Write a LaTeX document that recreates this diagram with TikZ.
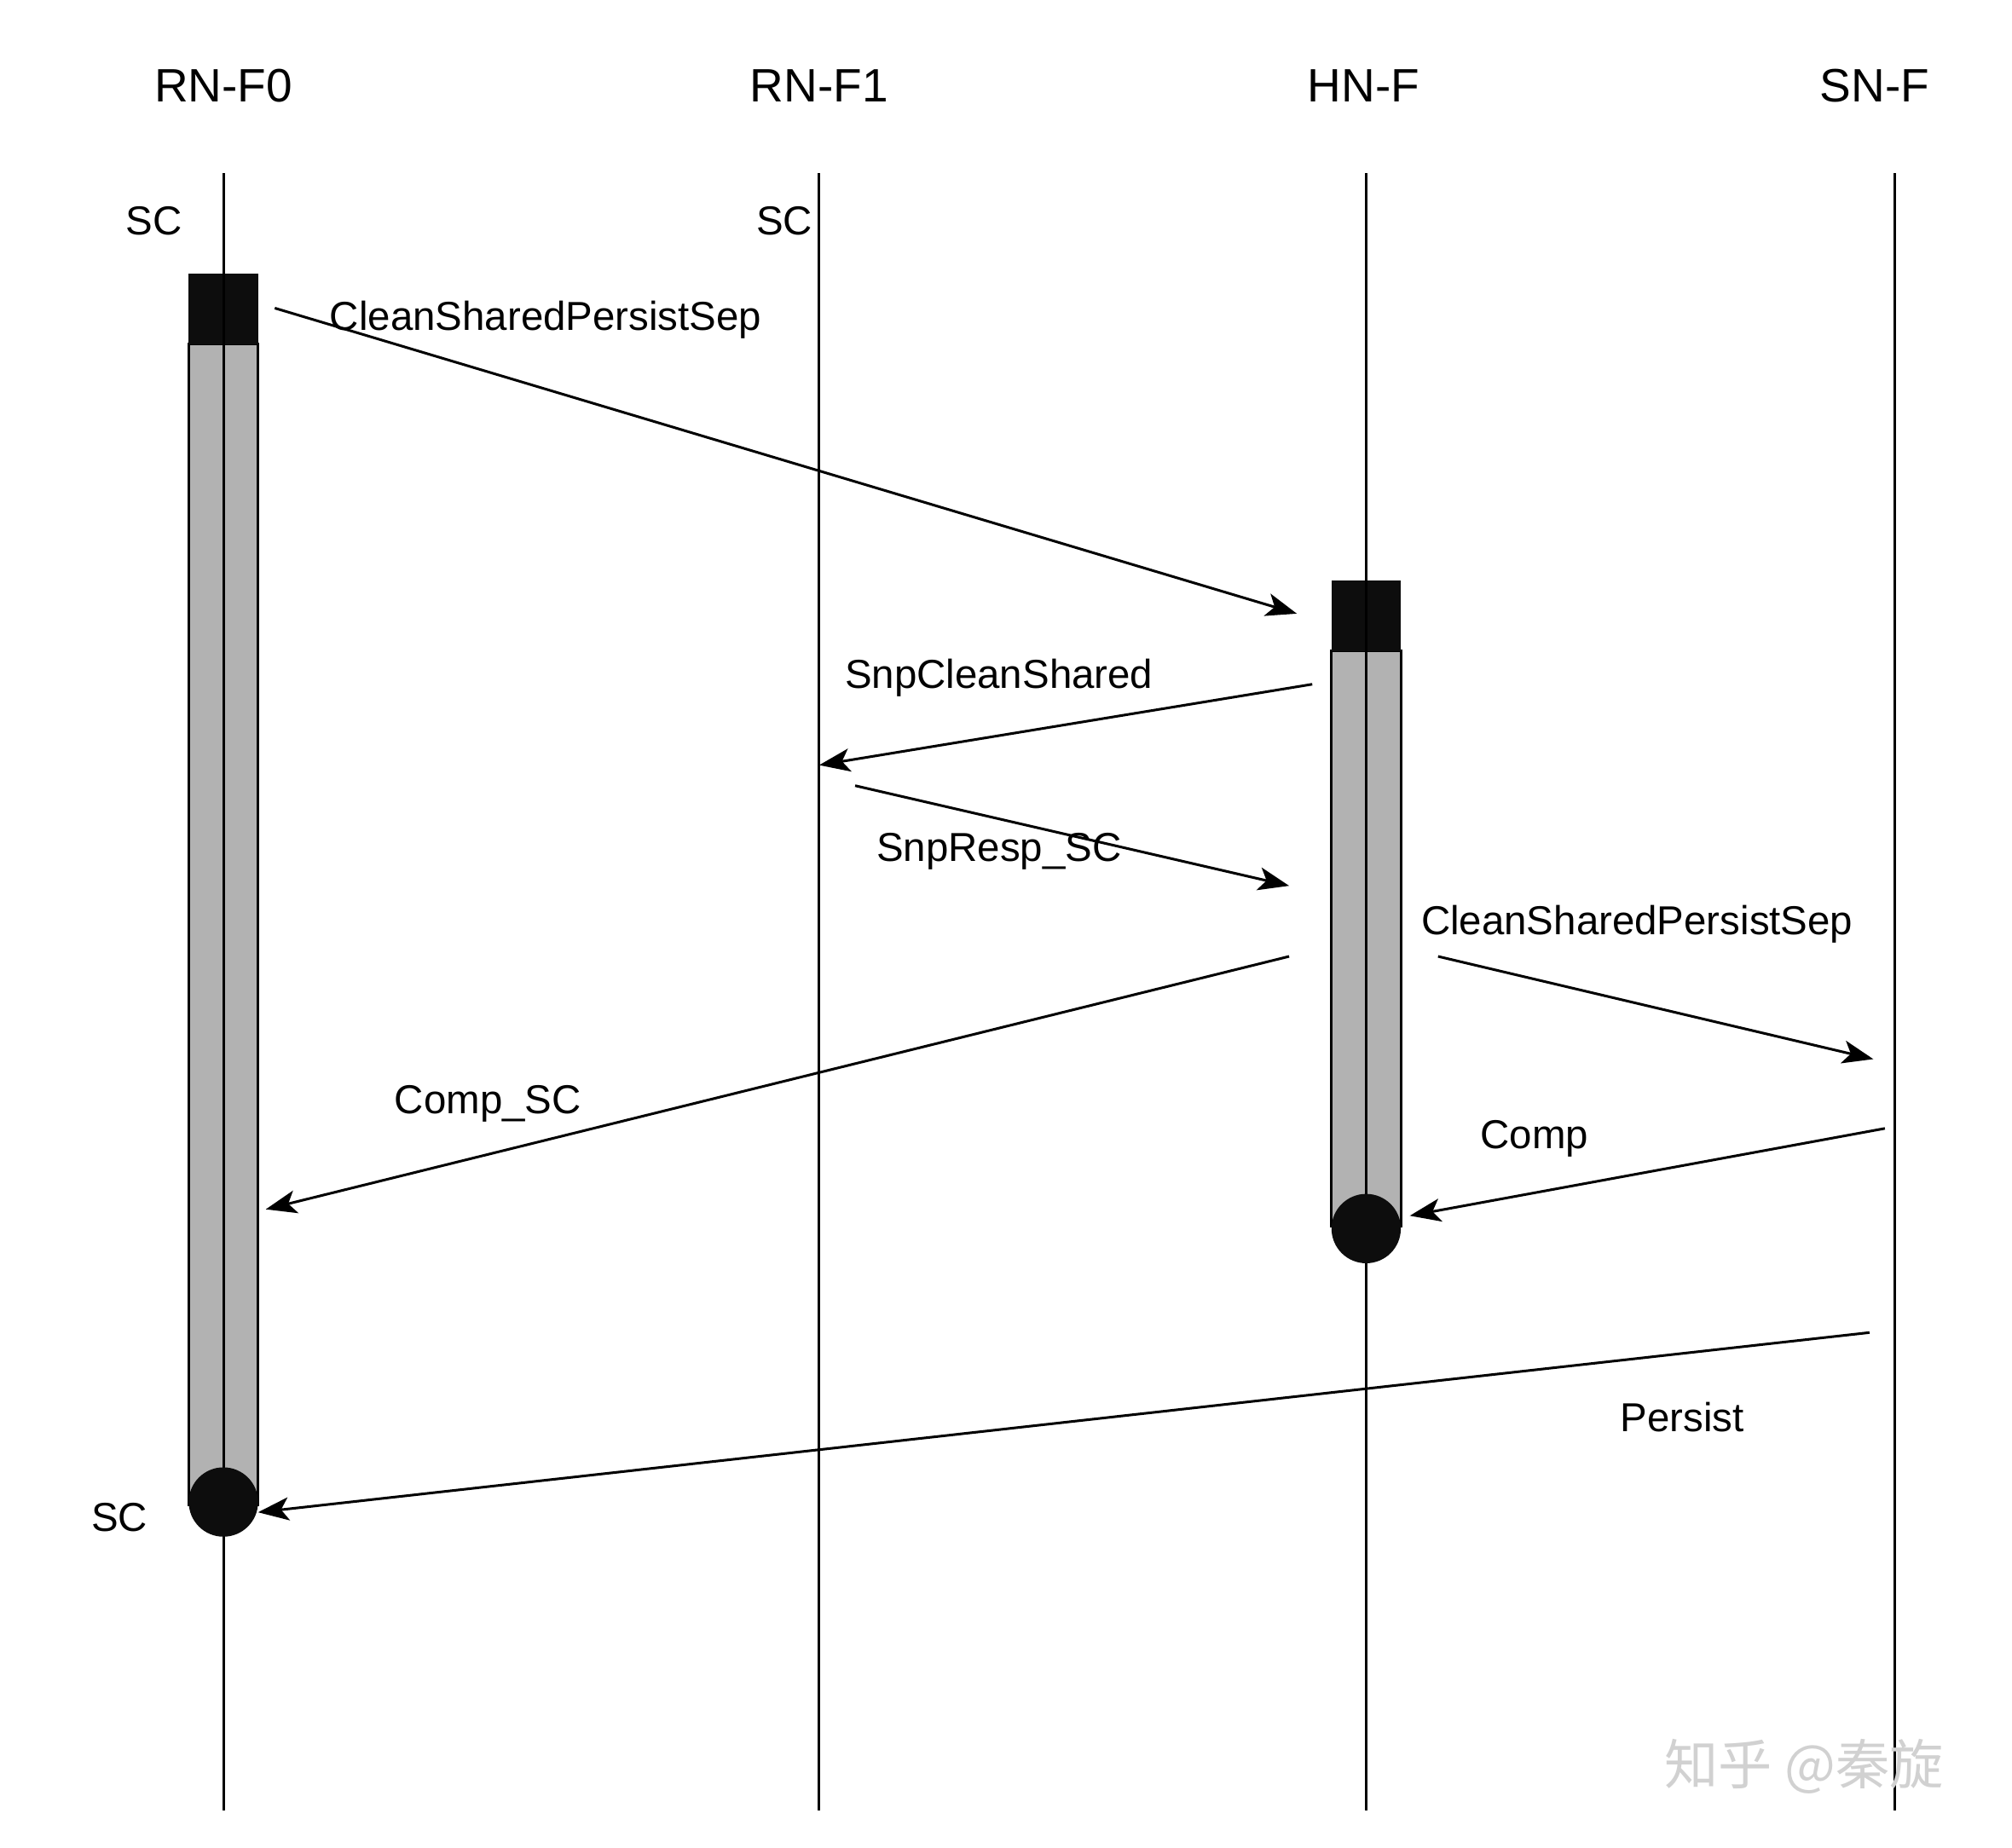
\documentclass[tikz,border=0pt]{standalone}
\usepackage{fontspec}
\setmainfont{Liberation Sans}
\newfontfamily\cjk{Noto Sans CJK SC}
\usetikzlibrary{arrows.meta}
\begin{document}
\begin{tikzpicture}[x=1pt,y=-1pt,
  life/.style={line width=2pt},
  msg/.style={line width=2pt,-{Stealth[length=24pt,width=18pt,inset=6pt]}},
  lbl/.style={font=\fontsize{31.5}{35}\selectfont},
  head/.style={font=\fontsize{36.5}{40}\selectfont},
  act/.style={draw,line width=2pt,fill=black!30}]
\useasboundingbox (0,0) rectangle (1567,1439.5);
\fill[white] (0,0) rectangle (1567,1439.5);
% headers
\node[head] (h0) at (174,67) {RN-F0};
\node[head] (h1) at (638,67) {RN-F1};
\node[head] (h2) at (1062,67) {HN-F};
\node[head] (h3) at (1460,67) {SN-F};
% activations
\draw[act] (147,268) rectangle (201,1172);
\fill[black!95] (147,213) rectangle (201,268);
\draw[act] (1037,507) rectangle (1091,955);
\fill[black!95] (1037,452) rectangle (1091,507);
% lifelines
\draw[life] (174,135) -- (174,1410);
\draw[life] (638,135) -- (638,1410);
\draw[life] (1064,135) -- (1064,1410);
\draw[life] (1476,135) -- (1476,1410);
\fill[black!95] (174,1170) circle (27);
\fill[black!95] (1064,957) circle (27);
% SC labels
\node[lbl] (s0) at (120,172) {SC};
\node[lbl] (s1) at (611,172) {SC};
\node[lbl] (s2) at (93,1182) {SC};
% message endpoints
\coordinate (a1) at (214,240); \coordinate (b1) at (1010,478);
\coordinate (a2) at (1022,533); \coordinate (b2) at (638,596);
\coordinate (a3) at (666,612); \coordinate (b3) at (1004,690);
\coordinate (a4) at (1004,745); \coordinate (b4) at (207,942);
\coordinate (a5) at (1120,745); \coordinate (b5) at (1459,825);
\coordinate (a6) at (1468,879); \coordinate (b6) at (1098,947);
\coordinate (a7) at (1456,1038); \coordinate (b7) at (201,1178);
\draw[msg] (a1) -- (b1);
\draw[msg] (a2) -- (b2);
\draw[msg] (a3) -- (b3);
\draw[msg] (a4) -- (b4);
\draw[msg] (a5) -- (b5);
\draw[msg] (a6) -- (b6);
\draw[msg] (a7) -- (b7);
\node[lbl] (m1) at (425,249) {CleanSharedPersistSep};
\node[lbl] (m2) at (778,528) {SnpCleanShared};
\node[lbl] (m3) at (778,663) {SnpResp\_SC};
\node[lbl] (m4) at (380,860) {Comp\_SC};
\node[lbl] (m5) at (1275,720) {CleanSharedPersistSep};
\node[lbl] (m6) at (1195,887) {Comp};
\node[lbl] (m7) at (1310,1104) {Persist};
\node[font=\cjk\fontsize{42}{46}\selectfont,text=black!18] (wm) at (1405,1376) {知乎 @秦旋};
\end{tikzpicture}
\end{document}
